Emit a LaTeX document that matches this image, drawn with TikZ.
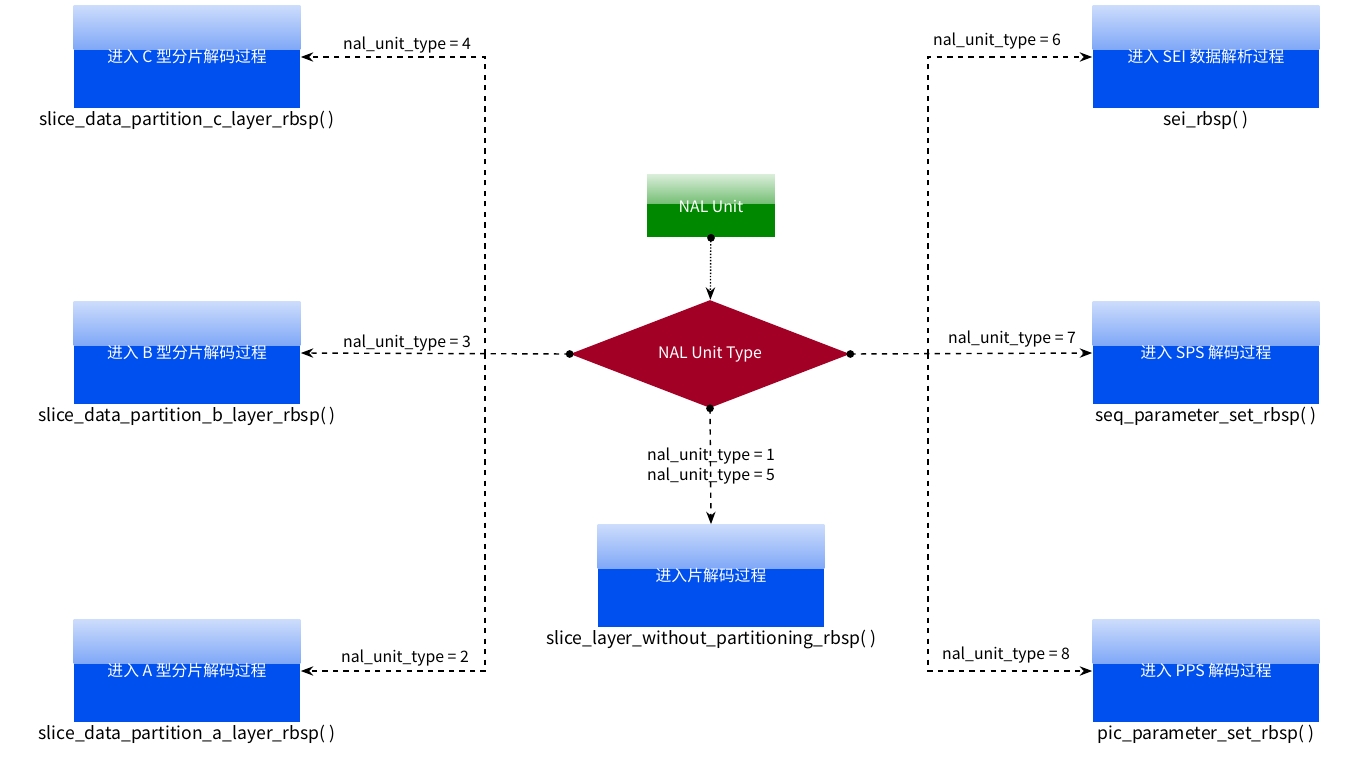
\documentclass[tikz,border=0pt]{standalone}
\usepackage{fontspec}
\setmainfont{Noto Sans CJK SC}
\usetikzlibrary{shapes.geometric,arrows.meta}
\definecolor{boxblue}{RGB}{0,80,239}
\definecolor{boxgreen}{RGB}{0,136,0}
\definecolor{diared}{RGB}{162,0,37}
\tikzset{
  proc/.style={fill=boxblue, text=white, minimum width=4.54cm, minimum height=2.06cm,
    inner sep=0pt, font=\fontsize{9}{11}\selectfont,
    path picture={\shade[top color=white!80!boxblue, bottom color=boxblue!90!white]
      (path picture bounding box.north west) rectangle ([yshift=0.15cm]path picture bounding box.east);}},
  fname/.style={font=\fontsize{10}{12}\selectfont, anchor=north, inner sep=1pt},
  lbl/.style={font=\fontsize{9}{11}\selectfont, inner sep=1pt},
  link/.style={dashed, thick, -{Stealth[length=2.5mm]}},
}
\begin{document}
\begin{tikzpicture}[x=0.02cm,y=-0.02cm]
    \useasboundingbox (0,0) rectangle (1352,757);

    % Start and decision
    \node[fill=boxgreen, text=white, minimum width=2.56cm, minimum height=1.26cm, font=\fontsize{9}{11}\selectfont,
      path picture={\shade[top color=white!85!boxgreen, bottom color=boxgreen]
      (path picture bounding box.north west) rectangle ([yshift=0.05cm]path picture bounding box.east);}]
      (nal) at (711,206) {NAL Unit};
    \node[diamond, fill=diared, text=white, minimum width=5.6cm, minimum height=2.16cm, aspect=2.6,
      inner sep=0pt, font=\fontsize{9}{11}\selectfont] (type) at (710,354) {NAL Unit Type};

    % Left boxes
    \node[proc] (c) at (187,57)  {进入 \textit{C} 型分片解码过程};
    \node[proc] (b) at (187,353) {进入 \textit{B} 型分片解码过程};
    \node[proc] (a) at (187,671) {进入 \textit{A} 型分片解码过程};

    % Right boxes
    \node[proc] (sei) at (1206,57)  {进入 SEI 数据解析过程};
    \node[proc] (sps) at (1206,353) {进入 SPS 解码过程};
    \node[proc] (pps) at (1206,671) {进入 PPS 解码过程};

    % Middle box
    \node[proc] (slice) at (711,576) {进入片解码过程};

    % Function names
    \node[fname] at (c.south)     {slice\_data\_partition\_c\_layer\_rbsp( )};
    \node[fname] at (b.south)     {slice\_data\_partition\_b\_layer\_rbsp( )};
    \node[fname] at (a.south)     {slice\_data\_partition\_a\_layer\_rbsp( )};
    \node[fname] at (sei.south)   {sei\_rbsp( )};
    \node[fname] at (sps.south)   {seq\_parameter\_set\_rbsp( )};
    \node[fname] at (pps.south)   {pic\_parameter\_set\_rbsp( )};
    \node[fname] at (slice.south) {slice\_layer\_without\_partitioning\_rbsp( )};

    % branching coordinates
    \coordinate (lt) at (485,354);
    \coordinate (rt) at (928,354);

    % Lines
    \draw[densely dotted, thick, -{Stealth[length=2.5mm]}] (nal) -- (type);
    \fill (nal.south) circle (2.2pt);
    \fill (type.west) circle (2.2pt);
    \fill (type.east) circle (2.2pt);
    \fill (type.south) circle (2.2pt);
    \draw[link] (type.west) -- (b.east);
    \draw[link] (lt) |- (c.east);
    \draw[link] (lt) |- (a.east);
    \draw[link] (type.east) -- (sps.west);
    \draw[link] (rt) |- (sei.west);
    \draw[link] (rt) |- (pps.west);
    \draw[link] (type.south) -- (slice.north);

    % Annotations
    \node[lbl] at (407,45)  {nal\_unit\_type = 4};
    \node[lbl] at (407,343) {nal\_unit\_type = 3};
    \node[lbl] at (405,658) {nal\_unit\_type = 2};
    \node[lbl] at (997,41)  {nal\_unit\_type = 6};
    \node[lbl] at (1012,339) {nal\_unit\_type = 7};
    \node[lbl] at (1006,655) {nal\_unit\_type = 8};
    \node[lbl, align=center] at (711,466) {nal\_unit\_type = 1\\nal\_unit\_type = 5};
\end{tikzpicture}
\end{document}
